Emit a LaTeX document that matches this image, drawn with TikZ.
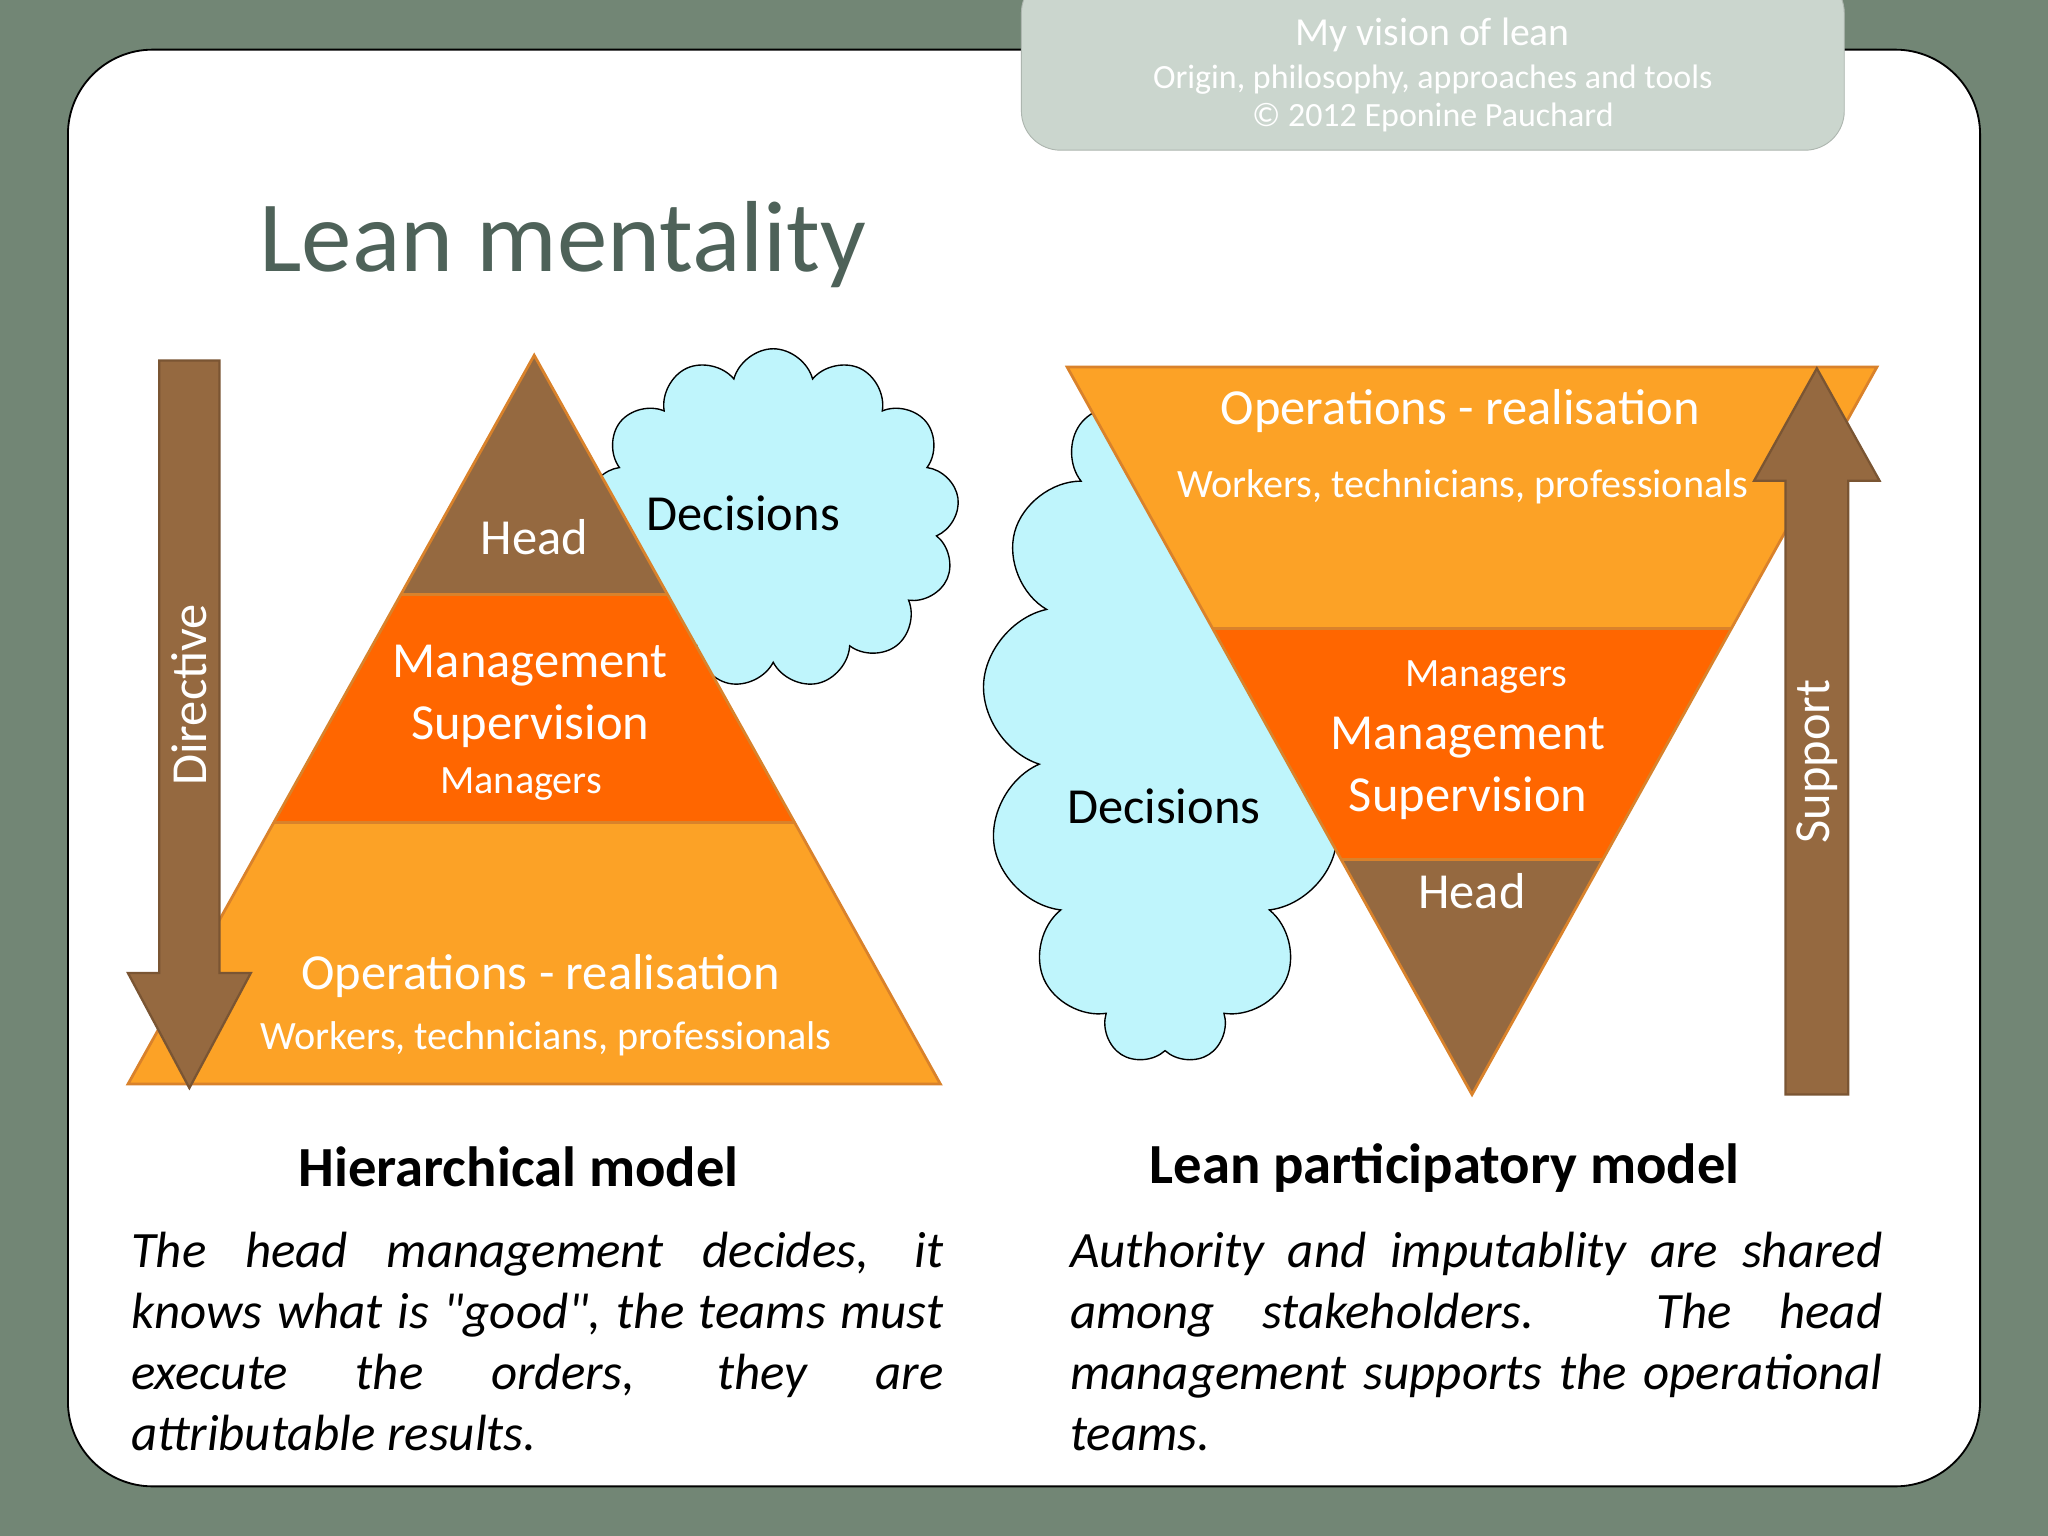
\documentclass[tikz,border=0pt]{standalone}
\usepackage{fontspec}
\setmainfont{Carlito}
\newfontfamily\qf{Carlito}
\newcommand{\sq}{{\qf\itshape\symbol{34}}}
\usetikzlibrary{shapes.symbols}
\definecolor{bgc}{HTML}{728675}
\definecolor{tabc}{HTML}{CBD6CE}
\definecolor{titc}{HTML}{4E6259}
\definecolor{brn}{HTML}{956940}
\definecolor{brnd}{HTML}{7A5533}
\definecolor{org}{HTML}{FF6600}
\definecolor{lorg}{HTML}{FCA226}
\definecolor{orgd}{HTML}{D9822B}
\definecolor{sky}{HTML}{BFF5FC}
\tikzset{
 band/.style={draw=orgd,line width=1.2pt},
 cloudy/.style={cloud,cloud puffs=13,cloud ignores aspect,draw=black,fill=sky,line width=0.6pt},
 arr/.style={fill=brn,draw=brnd,line width=1pt},
 lbl/.style={text=white,font=\fontsize{22}{26}\selectfont},
 sub/.style={text=white,font=\fontsize{17.5}{20}\selectfont},
 para/.style={text width=12.44cm,align=justify,font=\itshape\fontsize{22.2}{26.6}\selectfont,anchor=north west,inner sep=0pt},
 head/.style={font=\bfseries\fontsize{24.7}{28}\selectfont}
}
\begin{document}
\begin{tikzpicture}[x=0.02cm,y=-0.02cm]
\fill[bgc] (0,0) rectangle (1568,1176);
\useasboundingbox (0,0) rectangle (1568,1176);
\draw[fill=white,rounded corners=1.3cm,line width=0.8pt] (52,38) rectangle (1516,1138);
\fill[tabc,draw=tabc!85!black,rounded corners=0.6cm] (782,-20) rectangle (1412,115);
\node[text=white,font=\fontsize{17.3}{19}\selectfont] (t1) at (1097,27) {My vision of lean};
\node[text=white,font=\fontsize{14.8}{16}\selectfont] (t2) at (1097,61) {Origin, philosophy, approaches and tools};
\node[text=white,font=\fontsize{14.8}{16}\selectfont] (t3) at (1097,90) {© 2012 Eponine Pauchard};
\node[text=titc,font=\fontsize{44}{50}\selectfont] (title) at (431,187) {Lean mentality};
% left
\node[cloudy,minimum width=5.7cm,minimum height=5.2cm] (c1) at (592,397) {};
\fill[brn] (409,272) -- (511,455) -- (307,455) -- cycle;
\fill[org] (307,455) -- (511,455) -- (608.5,630) -- (209.5,630) -- cycle;
\fill[lorg] (209.5,630) -- (608.5,630) -- (720,830) -- (98,830) -- cycle;
\draw[band] (307,455) -- (511,455) (209.5,630) -- (608.5,630);
\draw[band] (409,272) -- (720,830) -- (98,830) -- cycle;
\node[lbl] (lh) at (409,411) {Head};
\node[lbl,align=center,font=\fontsize{22}{27}\selectfont] (lm) at (406,533) {Management\\Supervision};
\node[sub] (lmg) at (399,600) {Managers};
\node[lbl] (lo) at (414,747) {Operations - realisation};
\node[sub] (lw) at (418,795) {Workers, technicians, professionals};
\node[font=\fontsize{22}{26}\selectfont] (d1) at (569,393) {Decisions};
\draw[arr] (122,276) -- (168,276) -- (168,745) -- (192,745) -- (145,833) -- (98,745) -- (122,745) -- cycle;
\node[lbl,rotate=90] (dir) at (145,532) {Directive};
% right
\node[cloudy,minimum width=5.6cm,minimum height=10.4cm] (c2) at (892,555) {};
\fill[lorg] (817,281) -- (1437,281) -- (1326,481) -- (928,481) -- cycle;
\fill[org] (928,481) -- (1326,481) -- (1227,658) -- (1027,658) -- cycle;
\fill[brn] (1027,658) -- (1227,658) -- (1127,838) -- cycle;
\draw[band] (928,481) -- (1326,481) (1027,658) -- (1227,658);
\draw[band] (817,281) -- (1437,281) -- (1127,838) -- cycle;
\node[lbl] (ro) at (1118,315) {Operations - realisation};
\node[sub] (rw) at (1120,373) {Workers, technicians, professionals};
\node[sub] (rmg) at (1138,518) {Managers};
\node[lbl,align=center,font=\fontsize{22}{27}\selectfont] (rm) at (1124,588) {Management\\Supervision};
\node[lbl] (rh) at (1127,682) {Head};
\node[font=\fontsize{22}{26}\selectfont] (d2) at (891,617) {Decisions};
\draw[arr] (1367,838) -- (1415,838) -- (1415,368) -- (1439,368) -- (1391,282) -- (1343,368) -- (1367,368) -- cycle;
\node[lbl,rotate=90] (sup) at (1391,583) {Support};
% captions
\node[head] (h1) at (397,893) {Hierarchical model};
\node[head] (h2) at (1106,894) {Lean participatory model};
\node[para] (p1) at (100,943) {The head management decides, it\linebreak knows what is \sq good\sq, the teams must\linebreak execute the orders, they are\linebreak attributable results.};
\node[para] (p2) at (819,943) {Authority and imputablity are shared\linebreak among stakeholders. The head\linebreak management supports the operational\linebreak teams.};
\end{tikzpicture}
\end{document}
